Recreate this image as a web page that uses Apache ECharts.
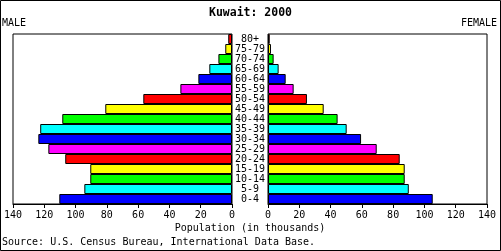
<!DOCTYPE html>
<html>
<head>
<meta charset="utf-8">
<script src="https://cdn.jsdelivr.net/npm/echarts@6/dist/echarts.min.js"></script>
<style>
html,body{margin:0;padding:0;background:#fff;}
#c{width:501px;height:251px;}
</style>
</head>
<body>
<div id="c"></div>
<script>
var ages = ['0-4','5-9','10-14','15-19','20-24','25-29','30-34','35-39','40-44','45-49','50-54','55-59','60-64','65-69','70-74','75-79','80+'];
var male = [110.4, 94.4, 90.6, 90.6, 106.6, 117.4, 123.8, 122.6, 108.5, 81, 56.7, 33, 21.5, 14.5, 8.7, 4.3, 2.4];
var female = [105.3, 90, 87.4, 87.4, 84.2, 69.5, 59.5, 50.3, 44.5, 35.6, 24.9, 16.4, 11.3, 6.8, 3.6, 1.9, 1.1];
var palette = ['#0000ff','#00ffff','#00ff00','#ffff00','#ff0000','#ff00ff'];
var xTicks = [0, 20, 40, 60, 80, 100, 120, 140];

var FONT = 'DejaVu Sans Mono';
function colored(arr){
  return arr.map(function(v,i){return {value:v, itemStyle:{color:palette[i%palette.length]}};});
}
var xAxisCommon = {
  type:'value', min:xTicks[0], max:xTicks[xTicks.length-1], interval:xTicks[1]-xTicks[0],
  splitLine:{show:false},
  axisLine:{show:true, lineStyle:{color:'#000', width:1}},
  axisTick:{show:true, length:4, lineStyle:{color:'#000'}},
  axisLabel:{color:'#000', fontFamily:FONT, fontSize:10, margin:6, showMinLabel:true, showMaxLabel:true}
};
var chart = echarts.init(document.getElementById('c'), null, {renderer:'canvas'});
chart.setOption({
  animation:false,
  backgroundColor:'#fff',
  grid:[
    {left:13, top:34, width:219, height:170, show:true, borderColor:'#000', borderWidth:1, backgroundColor:'#fff'},
    {left:268, top:34, width:219, height:170, show:true, borderColor:'#000', borderWidth:1, backgroundColor:'#fff'}
  ],
  xAxis:[
    Object.assign({gridIndex:0, inverse:true}, xAxisCommon),
    Object.assign({gridIndex:1}, xAxisCommon)
  ],
  yAxis:[
    {gridIndex:0, type:'category', data:ages, position:'right',
     axisLine:{show:false}, axisTick:{show:false}, splitLine:{show:false},
     axisLabel:{color:'#000', fontFamily:FONT, fontSize:10, align:'center', margin:18, interval:0}},
    {gridIndex:1, type:'category', data:ages, show:false}
  ],
  title:[
    {text:'Kuwait: 2000', left:'center', top:2, textStyle:{fontFamily:FONT, fontSize:11.5, fontWeight:'bold', color:'#000'}}
  ],
  graphic:[
    {type:'text', left:2, top:18, style:{text:'MALE', font:'10px "DejaVu Sans Mono"', fill:'#000'}},
    {type:'text', right:4, top:18, style:{text:'FEMALE', font:'10px "DejaVu Sans Mono"', fill:'#000'}},
    {type:'text', x:250, y:228, style:{text:'Population (in thousands)', font:'10px "DejaVu Sans Mono"', fill:'#000', align:'center', verticalAlign:'middle'}},
    {type:'text', x:2, y:242, style:{text:'Source: U.S. Census Bureau, International Data Base.', font:'10px "DejaVu Sans Mono"', fill:'#000', verticalAlign:'middle'}},
    {type:'rect', shape:{x:0.5, y:0.5, width:500, height:250}, style:{fill:null, stroke:'#000', lineWidth:1}, z:100}
  ],
  series:[
    {type:'bar', xAxisIndex:0, yAxisIndex:0, data:colored(male), barCategoryGap:0,
     itemStyle:{borderColor:'#000', borderWidth:1}},
    {type:'bar', xAxisIndex:1, yAxisIndex:1, data:colored(female), barCategoryGap:0,
     itemStyle:{borderColor:'#000', borderWidth:1}}
  ]
});
</script>
</body>
</html>
